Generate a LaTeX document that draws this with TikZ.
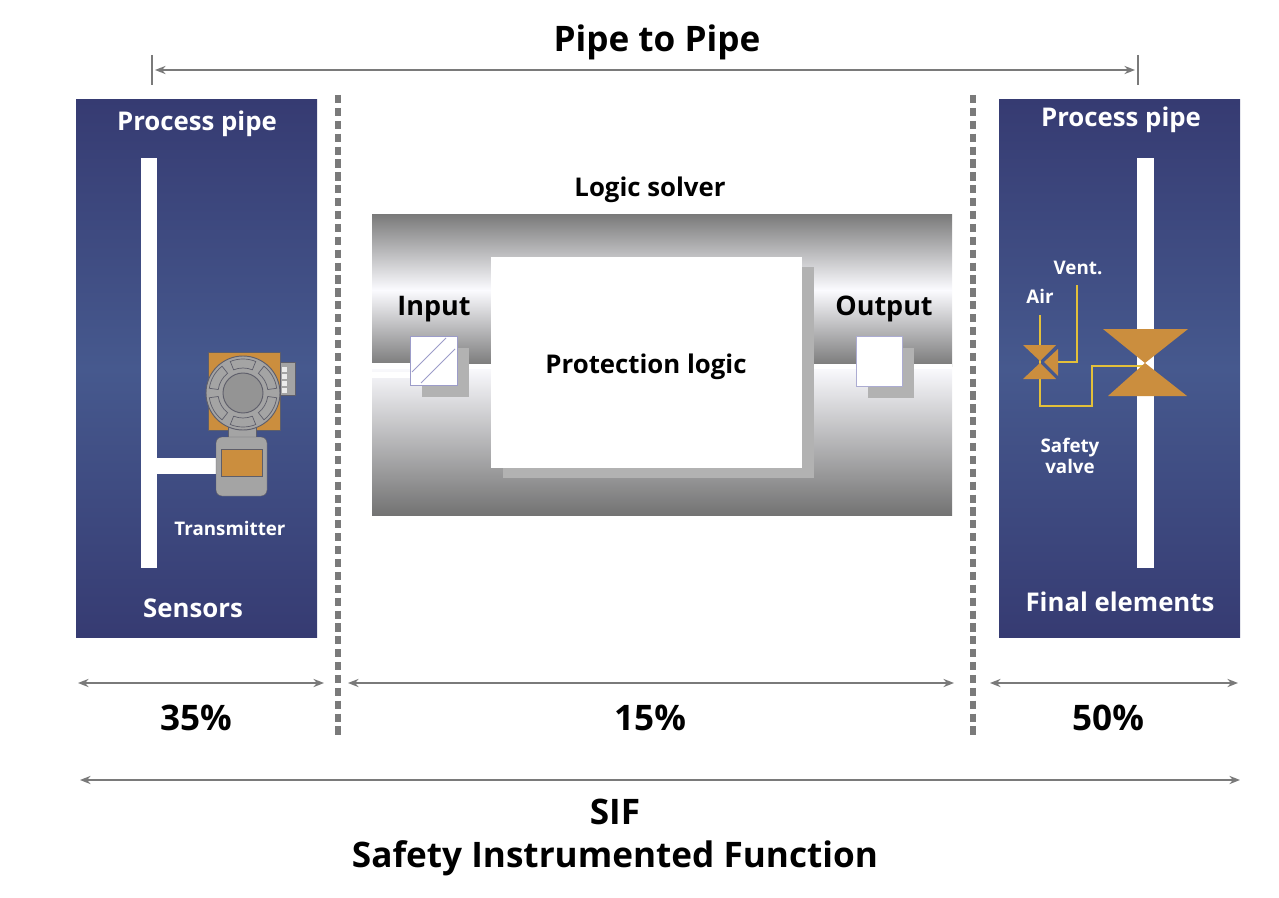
\documentclass[tikz,border=0pt]{standalone}
\usepackage{fontspec}
\setmainfont{Open Sans}
\usetikzlibrary{arrows.meta}
\definecolor{pan}{HTML}{363B72}
\definecolor{panm}{HTML}{46598E}
\definecolor{org}{HTML}{CB8E3E}
\definecolor{ylw}{HTML}{E3C03A}
\definecolor{gr}{HTML}{A4A4A4}
\definecolor{grd}{HTML}{5E5E6A}
\definecolor{arr}{HTML}{7A7A7A}
\begin{document}
\begin{tikzpicture}[x=0.03cm,y=-0.03cm,
 lab/.style={font=\bfseries\fontsize{22}{24}\selectfont,text=black},
 wlab/.style={font=\bfseries\fontsize{22}{24}\selectfont,text=white},
 big/.style={font=\bfseries\fontsize{30}{32}\selectfont,text=black},
 dim/.style={draw=arr,line width=1.6pt,{Stealth[length=9pt,width=7pt]}-{Stealth[length=9pt,width=7pt]}},
 panel/.style={top color=pan,bottom color=pan,middle color=panm,draw=none},
 sep/.style={draw=arr,line width=4.5pt,dash pattern=on 7pt off 4pt},
 pipe/.style={fill=white,draw=none},
 yl/.style={draw=ylw,line width=2.2pt}]
\useasboundingbox (0,0) rectangle (1279,898);
% panels
\path[panel] (76,100) rectangle (317,637);
\path[panel] (999,100) rectangle (1240,637);
\path[pipe] (141,158) rectangle (157,568);
\path[pipe] (157,458) rectangle (220,474);
\path[pipe] (1137,158) rectangle (1154,568);
% transmitter
\fill[org,draw=grd,line width=0.4pt] (208,352) rectangle (280,430);
\fill[gr,draw=grd,line width=0.4pt] (280,362) rectangle (295,395);
\foreach \yy in {367,374,381,388} \fill[white!85!gray] (282,\yy) rectangle (287,\yy+5);
\fill[gr,draw=grd] (228,425) rectangle (256,440);
\fill[gr,draw=grd,rounded corners=5pt] (216,437) rectangle (267,496);
\fill[org,draw=grd] (221,449) rectangle (262,476);
\fill[gr,draw=grd,line width=0.8pt] (243,393) circle[radius=37];
\foreach \a in {0,60,...,300}
 \fill[gr!80!white,draw=grd,line width=0.6pt] (\a+12:23) ++(243,393) ;
\foreach \a in {0,60,...,300}
 \fill[gr,draw=grd,line width=0.6pt,shift={(243,393)}] (\a+8:25) arc[start angle=\a+8,end angle=\a+52,radius=25] -- (\a+52:34) arc[start angle=\a+52,end angle=\a+8,radius=34] -- cycle;
\fill[gr!90!black,draw=grd,line width=0.8pt] (243,393) circle[radius=20];
% logic solver
\path[top color=gray!95!black,bottom color=gray!95!black,middle color=white!85!blue!10] (372,214) rectangle (952,366);
\path[top color=white!85!blue!10,bottom color=gray!90!black] (372,366) rectangle (952,515);
\fill[white] (372,363) rectangle (410,369);
\fill[white] (372,372) rectangle (410,378);
\fill[white] (457,364) rectangle (491,369);
\fill[white] (802,364) rectangle (856,369);
\fill[white] (902,364) rectangle (952,369);
\fill[gray!60] (503,267) rectangle (814,478);
\fill[white] (491,257) rectangle (802,468);
\fill[gray!60] (422,348) rectangle (469,397);
\fill[white,draw=blue!30!gray!60,line width=0.8pt] (410,336) rectangle (457,385);
\draw[blue!30!gray!60,line width=0.8pt] (412,372) -- (446,338) (421,383) -- (455,349);
\fill[gray!60] (868,348) rectangle (914,398);
\fill[white,draw=blue!30!gray!50] (856,336) rectangle (902,386);
% valves
\draw[yl] (1040,315) -- (1040,406) -- (1092,406) -- (1092,366) -- (1145,366);
\draw[yl] (1077,285) -- (1077,362) -- (1058,362);
\fill[org] (1103,329) -- (1188,329) -- (1145,363) -- cycle;
\fill[org] (1108,396) -- (1187,396) -- (1145,363) -- cycle;
\fill[org] (1023,345) -- (1056,345) -- (1040,361) -- cycle;
\fill[org] (1023,379) -- (1056,379) -- (1040,363) -- cycle;
\fill[org] (1058,349) -- (1058,376) -- (1044,362) -- cycle;
% separators
\draw[sep] (338,95) -- (338,735);
\draw[sep] (973,95) -- (973,735);
% dimension arrows
\draw[arr,line width=1.6pt] (152,55) -- (152,85) (1138,55) -- (1138,85);
\coordinate (pa) at (155,70); \coordinate (pb) at (1135,70);
\draw[dim] (pa) -- (pb);
\coordinate (a1) at (78,683); \coordinate (a2) at (324,683);
\coordinate (b1) at (348,683); \coordinate (b2) at (954,683);
\coordinate (c1) at (990,683); \coordinate (c2) at (1238,683);
\coordinate (d1) at (80,780); \coordinate (d2) at (1240,780);
\draw[dim] (a1) -- (a2); \draw[dim] (b1) -- (b2); \draw[dim] (c1) -- (c2); \draw[dim] (d1) -- (d2);
% texts
\node[big] (t1) at (657,42) {Pipe to Pipe};
\node[wlab] (t2) at (197,124) {Process pipe};
\node[wlab] (t3) at (1121,120) {Process pipe};
\node[wlab] (t4) at (193,608) {Sensors};
\node[wlab] (t5) at (1120,602) {Final elements};
\node[font=\bfseries\fontsize{16}{18}\selectfont,text=white] (t6) at (230,528) {Transmitter};
\node[lab] (t7) at (650,190) {Logic solver};
\node[lab,font=\bfseries\fontsize{23}{25}\selectfont] (t8) at (434,309) {Input};
\node[lab,font=\bfseries\fontsize{23}{25}\selectfont] (t9) at (884,309) {Output};
\node[lab] (t10) at (646,367) {Protection logic};
\node[font=\bfseries\fontsize{16}{18}\selectfont,text=white] (t11) at (1078,268) {Vent.};
\node[font=\bfseries\fontsize{16}{18}\selectfont,text=white] (t12) at (1040,296) {Air};
\node[font=\bfseries\fontsize{16}{18}\selectfont,text=white,align=center] (t13) at (1070,456) {Safety\\valve};
\node[big] (p1) at (196,718) {35\%};
\node[big] (p2) at (650,718) {15\%};
\node[big] (p3) at (1108,718) {50\%};
\node[big] (s1) at (615,812) {SIF};
\node[big] (s2) at (615,858) {Safety Instrumented Function};
\end{tikzpicture}
\end{document}
